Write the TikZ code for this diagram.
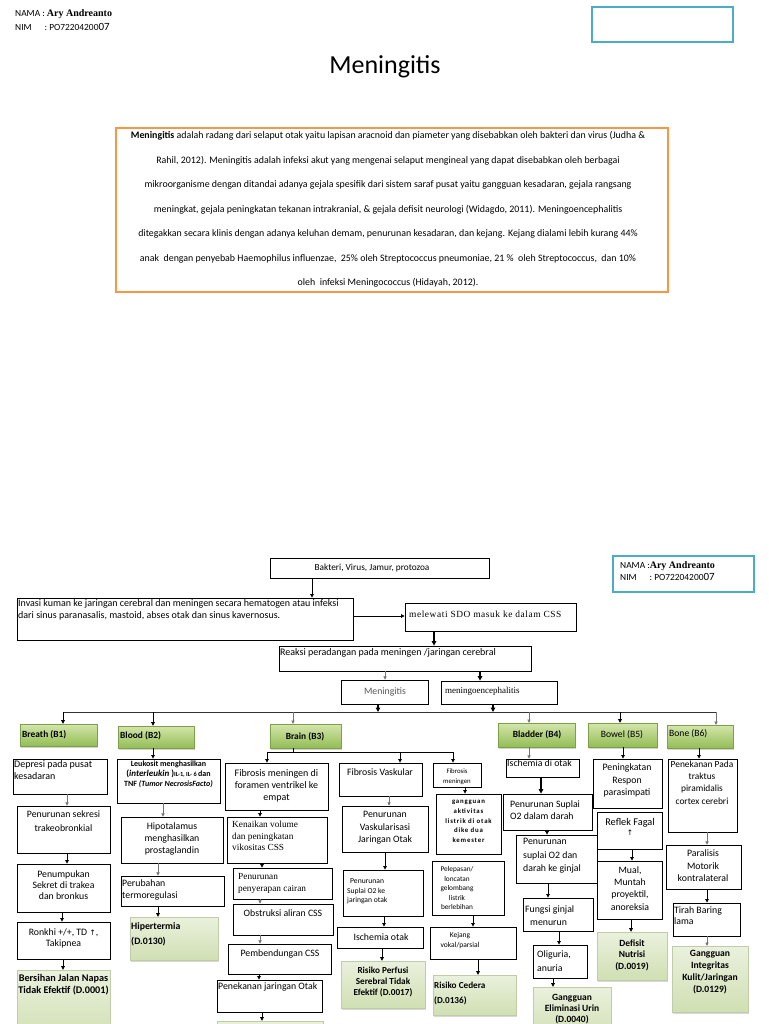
\documentclass[tikz,border=0pt]{standalone}
\usepackage{fontspec}
\setmainfont{Carlito}
\newfontfamily\tnr{Liberation Serif}
\newfontfamily\dvs{DejaVu Sans}
\usetikzlibrary{fit,arrows.meta,shadows}
\definecolor{teal1}{HTML}{4BACC6}
\definecolor{orng}{HTML}{F79646}
\definecolor{hdrtop}{HTML}{D4E6AC}
\definecolor{hdrbot}{HTML}{93BD55}
\definecolor{outtop}{HTML}{EAF1DD}
\definecolor{outbot}{HTML}{D0DFB3}
\newcommand\fs[2]{\fontsize{#1}{#2}\selectfont}
\newcommand\upar{{\dvs\fontsize{7.5}{8}\selectfont ↑}}
\tikzset{
  box/.style={draw=black, line width=0.8pt, inner sep=0pt, rectangle},
  hdr/.style={inner sep=0pt, rectangle, top color=hdrtop, bottom color=hdrbot,
    draw=hdrbot!85!black, line width=0.4pt,
    drop shadow={shadow xshift=1.2pt, shadow yshift=-1.6pt, opacity=0.35}},
  outc/.style={inner sep=0pt, rectangle, top color=outtop, bottom color=outbot,
    draw=outbot!80!gray, line width=0.4pt,
    drop shadow={shadow xshift=1.2pt, shadow yshift=-1.6pt, opacity=0.3}},
  tx/.style={inner sep=0pt, font=\fs{9.8}{12.5}, align=center},
  txl/.style={inner sep=0pt, font=\fs{9.8}{12.5}, align=left},
  arr/.style={-{Triangle[length=3.6pt,width=3.6pt]}, line width=0.8pt},
  arrg/.style={-{Triangle[length=3.2pt,width=3.2pt]}, line width=0.6pt, draw=black!55},
  arrk/.style={-{Triangle[length=4.5pt,width=4.5pt]}, line width=1.3pt},
}
\newcommand\bx[6][box]{\node[#1, fit={(#3,#4) (#5,#6)}] (#2) {};}
\begin{document}
\begin{tikzpicture}[x=1pt,y=-1pt]
\useasboundingbox (0,0) rectangle (768,1024);
\clip (0,0) rectangle (768,1024);
\fill[white] (0,0) rectangle (768,1024);

% ---------- header ----------
\node[anchor=base west, inner sep=0pt, font=\fs{9.4}{11}] (nama1) at (15,17) {NAMA : {\tnr\bfseries\fs{10}{11}Ary Andreanto}};
\node[anchor=base west, inner sep=0pt, font=\fs{9.4}{11}] (nim1) at (15,30.5) {NIM\hspace{13pt}: PO72204200{\fs{11}{11}07}};
\node[box, draw=teal1, line width=1.4pt, fit={(592,7) (733,42)}] (idbox1) {};
\node[inner sep=0pt, font=\fs{26}{30}] (title) at (385,67) {Meningitis};
\node[box, draw=orng, line width=1.6pt, fit={(116,128) (668,292)}] (defbox) {};
\node[anchor=north, inner sep=0pt, align=center, font=\fs{9.9}{24.5}] (para) at (388,131.5) {%
\textbf{Meningitis} adalah radang dari selaput otak yaitu lapisan aracnoid dan piameter yang disebabkan oleh bakteri dan virus (Judha \&\\
Rahil, 2012). Meningitis adalah infeksi akut yang mengenai selaput mengineal yang dapat disebabkan oleh berbagai\\
mikroorganisme dengan ditandai adanya gejala spesifik dari sistem saraf pusat yaitu gangguan kesadaran, gejala rangsang\\
meningkat, gejala peningkatan tekanan intrakranial, \& gejala defisit neurologi (Widagdo, 2011). Meningoencephalitis\\
ditegakkan secara klinis dengan adanya keluhan demam, penurunan kesadaran, dan kejang. Kejang dialami lebih kurang 44\%\\
anak\ \ dengan penyebab Haemophilus influenzae,\ \ 25\% oleh Streptococcus pneumoniae, 21 \%\ \ oleh Streptococcus,\ \ dan 10\%\\
oleh\ \ infeksi Meningococcus (Hidayah, 2012).};

% ---------- second id box ----------
\node[box, draw=teal1, line width=1.4pt, fit={(613,556) (754,592)}] (idbox2) {};
\node[anchor=base west, inner sep=0pt, font=\fs{9.4}{11}] (nama2) at (620,568) {NAMA :{\tnr\bfseries\fs{10}{11}Ary Andreanto}};
\node[anchor=base west, inner sep=0pt, font=\fs{9.4}{11}] (nim2) at (620,580) {NIM\hspace{13pt}: PO72204200{\fs{11}{11}07}};

% ---------- top of flow ----------
\bx{bak}{270}{558}{489}{578}
\node[tx, font=\fs{9.3}{12}] (lbak) at (372,568) {Bakteri, Virus, Jamur, protozoa};
\bx{inv}{17}{598}{353}{640}
\node[txl, anchor=north west, font=\fs{10}{12.5}] (linv) at (18,599) {Invasi kuman ke jaringan cerebral dan meningen secara hematogen atau infeksi\\dari sinus paranasalis, mastoid, abses otak dan sinus kavernosus.};
\bx{mel}{405}{603}{576}{631}
\node[txl, anchor=west, font=\tnr\addfontfeature{LetterSpace=6}\fs{9.4}{10}] (lmel) at (409,614) {melewati SDO masuk ke dalam CSS};
\bx{rea}{279}{646}{531}{671}
\node[txl, anchor=north west, font=\fs{10}{12}] (lrea) at (280,648.5) {Reaksi peradangan pada meningen /jaringan cerebral};
\bx{men}{341}{680}{428}{704}
\node[tx, text=black!65] (lmen) at (385,692) {Meningitis};
\bx{menc}{441}{681}{557}{704}
\node[txl, anchor=west, font=\tnr\fs{9}{10}] (lmenc) at (445,691) {meningoencephalitis};

\draw[arr] (bak.south -| 312,0) -- (inv.north -| 312,0);
\draw[arr] (inv.east |- 0,616) -- (mel.west |- 0,616);
\draw[arrk] (mel.south -| 434,0) -- (rea.north -| 434,0);
\draw[arrg] (rea.south -| 385,0) -- (men.north -| 385,0);
\draw[arrk] (rea.south -| 480,0) -- (menc.north -| 480,0);

\coordinate (busL) at (63,712);
\coordinate (busR) at (716,712);
\draw[line width=0.9pt, black!80] (busL) -- (busR);
\draw[arrk] (men.south -| 378,0) -- (busL -| 378,0);
\draw[arrk] (menc.south -| 493,0) -- (busL -| 493,0);

% ---------- headers ----------
\bx[hdr]{hb1}{20}{724}{97}{746}
\node[txl, anchor=west, font=\bfseries\fs{9.4}{11}] (lb1) at (22,734.5) {Breath (B1)};
\bx[hdr]{hb2}{118}{726}{194}{748}
\node[txl, anchor=west, font=\bfseries\fs{9.4}{11}] (lb2) at (120,735.5) {Blood (B2)};
\bx[hdr]{hb3}{270}{724}{341}{748}
\node[tx, font=\bfseries\fs{9.4}{11}] (lb3) at (305,736.5) {Brain (B3)};
\bx[hdr]{hb4}{498}{723}{575}{747}
\node[tx, font=\bfseries\fs{9.4}{11}] (lb4) at (537,735) {Bladder (B4)};
\bx[hdr]{hb5}{588}{723}{657}{747}
\node[tx, font=\fs{9.6}{11}] (lb5) at (622,735) {Bowel (B5)};
\bx[hdr]{hb6}{667}{725}{733}{748}
\node[txl, anchor=west, font=\fs{9.6}{11}] (lb6) at (669,733.5) {Bone (B6)};

\draw[arr] (busL -| 63,0) -- (hb1.north -| 63,0);
\draw[arr] (busL -| 153,0) -- (hb2.north -| 153,0);
\draw[arrg] (busL -| 293,0) -- (hb3.north -| 293,0);
\draw[arrg] (busL -| 529,0) -- (hb4.north -| 529,0);
\draw[arr] (busL -| 620,0) -- (hb5.north -| 620,0);
\draw[arrg] (busL -| 716,0) -- (hb6.north -| 716,0);

% ---------- B1 ----------
\bx{dep}{13}{759}{107}{794}
\node[txl, anchor=north west, font=\fs{10}{12}] (ldep) at (14,760.8) {Depresi pada pusat\\kesadaran};
\bx{pse}{17}{806}{110}{853}
\node[tx, anchor=north, font=\fs{9.8}{14}] (lpse) at (63.5,810.7) {Penurunan sekresi\\trakeobronkial};
\bx{pen}{17}{864}{110}{912}
\node[tx, anchor=north, font=\fs{9.8}{11}] (lpen) at (63.5,870.7) {Penumpukan\\Sekret di trakea\\dan bronkus};
\bx{ron}{17}{922}{110}{959}
\node[tx, anchor=north, font=\fs{9.8}{10.5}] (lron) at (63.5,928.7) {Ronkhi +/+, TD \upar,\\Takipnea};
\bx[outc]{o1}{17}{970}{110}{1040}
\node[tx, anchor=north, font=\bfseries\fs{10.2}{11.5}] (lo1) at (63.5,974.5) {Bersihan Jalan Napas\\Tidak Efektif (D.0001)};
\draw[arrg] (dep.south -| 67,0) -- (pse.north -| 67,0);
\draw[arr] (pse.south -| 67,0) -- (pen.north -| 67,0);
\draw[arr] (pen.south -| 62,0) -- (ron.north -| 62,0);
\draw[arr] (ron.south -| 63,0) -- (o1.north -| 63,0);

% ---------- B2 ----------
\bx{leu}{117}{759}{220}{803}
\node[tx, anchor=north, font=\bfseries\fs{8}{10}] (lleu) at (168.5,760.8) {Leukosit menghasilkan\\{\fs{9}{10}(\textit{interleukin} )}{\fs{6.3}{10}IL-1, IL- 6 }dan\\TNF \textit{(Tumor NecrosisFacto)}};
\bx{hip}{121}{817}{223}{863}
\node[tx, anchor=north, font=\fs{9.8}{12}] (lhip) at (172,822.5) {Hipotalamus\\menghasilkan\\prostaglandin};
\bx{per}{121}{876}{224}{906}
\node[txl, anchor=north west, font=\fs{9.8}{12}] (lper) at (122,879.5) {Perubahan\\termoregulasi};
\bx[outc]{o2}{130}{917}{218}{960}
\node[txl, anchor=north west, font=\bfseries\fs{9.8}{15}] (lo2) at (131,922.5) {Hipertermia\\(D.0130)};
\draw[arr] (hb2.south -| 153,0) -- (leu.north -| 153,0);
\draw[arrg] (leu.south -| 163,0) -- (hip.north -| 163,0);
\draw[arrg] (hip.south -| 158,0) -- (per.north -| 158,0);
\draw[arr] (per.south -| 158,0) -- (o2.north -| 158,0);

% ---------- B3 ----------
\coordinate (bus3L) at (267,752);
\coordinate (bus3R) at (454,752);
\draw[line width=0.8pt] (bus3L) -- (bus3R);
\draw[line width=0.8pt] (hb3.south -| 293,0) -- (bus3L -| 293,0);
\bx{fm1}{225}{763}{328}{810}
\node[tx, anchor=north, font=\fs{10}{12}] (lfm1) at (276.5,769.3) {Fibrosis meningen di\\foramen ventrikel ke\\empat};
\bx{ken}{227}{817}{327}{863}
\node[txl, anchor=north west, font=\tnr\fs{9.3}{11.5}] (lken) at (232,821.3) {Kenaikan volume\\dan peningkatan\\vikositas CSS};
\bx{pny}{233}{868}{332}{899}
\node[txl, anchor=north west, font=\tnr\fs{9.3}{12}] (lpny) at (238,873.3) {Penurunan\\penyerapan cairan};
\bx{obs}{233}{904}{333}{935}
\node[tx, anchor=north, font=\fs{9.8}{12}] (lobs) at (283,909.5) {Obstruksi aliran CSS};
\bx{pmb}{228}{944}{331}{974}
\node[tx, anchor=north, font=\fs{9.8}{12}] (lpmb) at (280,949.5) {Pembendungan CSS};
\bx{pnk}{217}{980}{322}{1012}
\node[txl, anchor=north west, font=\fs{9.8}{12}] (lpnk) at (218,982.5) {Penekanan jaringan Otak};
\bx[outc]{o3}{217}{1021}{323}{1040}
\draw[arr] (bus3L -| 267,0) -- (fm1.north -| 267,0);
\draw[arr] (fm1.south -| 260,0) -- (ken.north -| 260,0);
\draw[arr] (ken.south -| 262,0) -- (pny.north -| 262,0);
\draw[arrg] (pny.south -| 260,0) -- (obs.north -| 260,0);
\draw[arrg] (obs.south -| 260,0) -- (pmb.north -| 260,0);
\draw[arr] (pmb.south -| 259,0) -- (pnk.north -| 259,0);
\draw[arr] (pnk.south -| 262,0) -- (o3.north -| 262,0);

\bx{fv}{339}{763}{422}{796}
\node[tx, anchor=north, font=\fs{9.8}{12}] (lfv) at (380,768.5) {Fibrosis Vaskular};
\bx{pvj}{342}{806}{428}{852}
\node[tx, anchor=north, font=\fs{9.8}{12.5}] (lpvj) at (385,811.5) {Penurunan\\Vaskularisasi\\Jaringan Otak};
\bx{pso}{343}{870}{423}{916}
\node[txl, anchor=north west, font=\fs{7.6}{9.7}] (lpso) at (347,878.5) {\hspace*{3pt}Penurunan\\Suplai O2 ke\\jaringan otak};
\bx{isc}{337}{927}{423}{948}
\node[tx, font=\fs{9.8}{12}] (lisc) at (381,937.5) {Ischemia otak};
\bx[outc]{o4}{341}{961}{425}{1008}
\node[tx, anchor=north, font=\bfseries\fs{9.2}{10.7}] (lo4) at (383,967.3) {Risiko Perfusi\\Serebral Tidak\\Efektif (D.0017)};
\draw[arr] (bus3L -| 400,0) -- (fv.north -| 400,0);
\draw[arrg] (fv.south -| 389,0) -- (pvj.north -| 389,0);
\draw[arr] (pvj.south -| 385,0) -- (pso.north -| 385,0);
\draw[arr] (pso.south -| 384,0) -- (isc.north -| 384,0);
\draw[arr] (isc.south -| 382,0) -- (o4.north -| 382,0);

\bx{fmk}{433}{763}{481}{787}
\node[tx, anchor=north, font=\fs{6.8}{10}] (lfmk) at (457,768.7) {Fibrosis\\meningen};
\bx{gan}{436}{794}{501}{854}
\node[tx, anchor=north, font=\bfseries\addfontfeature{LetterSpace=12}\fs{6.8}{9.6}] (lgan) at (468.5,800.3) {gangguan\\aktivitas\\listrik di otak\\dike dua\\kemester};
\bx{pel}{432}{861}{504}{915}
\node[tx, anchor=north, font=\fs{7.3}{9.5}] (lpel) at (457,866.7) {Pelepasan/\\loncatan\\gelombang\\listrik\\berlebihan};
\bx{kej}{430}{927}{516}{959}
\node[tx, anchor=north, font=\fs{7.5}{9.5}] (lkej) at (460,932.4) {Kejang\\vokal/parsial};
\bx[outc]{o5}{433}{975}{516}{1015}
\node[txl, anchor=north west, font=\bfseries\fs{9.2}{15}] (lo5) at (434,981.5) {Risiko Cedera\\(D.0136)};
\draw[arr] (bus3L -| 453,0) -- (fmk.north -| 453,0);
\draw[arr] (fmk.south -| 465,0) -- (gan.north -| 465,0);
\draw[arr] (pel.south -| 473,0) -- (kej.north -| 473,0);
\draw[arr] (kej.south -| 478,0) -- (o5.north -| 478,0);

% ---------- B4 ----------
\bx{isd}{506}{759}{579}{777}
\node[txl, anchor=north west, font=\fs{9.8}{12}] (lisd) at (507,759.4) {Ischemia di otak};
\bx{psd}{503}{794}{592}{830}
\node[txl, anchor=north west, font=\fs{9.8}{12}] (lpsd) at (510,800.5) {Penurunan Suplai\\O2 dalam darah};
\bx{psg}{516}{835}{597}{883}
\node[txl, anchor=north west, font=\fs{9.8}{13.5}] (lpsg) at (523,838.5) {Penurunan\\suplai O2 dan\\darah ke ginjal};
\bx{fgm}{523}{898}{593}{931}
\node[txl, anchor=north west, font=\fs{9.8}{13}] (lfgm) at (525,905.5) {Fungsi ginjal\\\hspace*{5pt}menurun};
\bx{oli}{533}{945}{587}{978}
\node[txl, anchor=north west, font=\fs{9.8}{14}] (loli) at (537,950.5) {Oliguria,\\anuria};
\bx[outc]{o6}{533}{987}{611}{1040}
\node[tx, anchor=north, font=\bfseries\fs{9.5}{11}] (lo6) at (572,994.5) {Gangguan\\Eliminasi Urin\\(D.0040)};
\draw[arrg] (hb4.south -| 529,0) -- (isd.north -| 529,0);
\draw[arrk] (isd.south -| 541,0) -- (psd.north -| 541,0);
\draw[arr] (psd.south -| 547,0) -- (psg.north -| 547,0);
\draw[arr] (psg.south -| 548,0) -- (fgm.north -| 548,0);
\draw[arr] (fgm.south -| 559,0) -- (oli.north -| 559,0);
\draw[arr] (oli.south -| 553,0) -- (o6.north -| 553,0);

% ---------- B5 ----------
\bx{pr}{593}{759}{662}{808}
\node[tx, anchor=north, font=\fs{9.8}{12.5}] (lpr) at (627,763.5) {Peningkatan\\Respon\\parasimpati};
\bx{rf}{597}{812}{662}{849}
\node[tx, anchor=north, font=\fs{10.3}{10}] (lrf) at (630,818.3) {Reflek Fagal\\\upar};
\bx{mu}{597}{861}{662}{919}
\node[tx, anchor=north, font=\fs{9.8}{12.2}] (lmu) at (630,866.5) {Mual,\\Muntah\\proyektil,\\anoreksia};
\bx[outc]{o7}{597}{932}{667}{980}
\node[tx, anchor=north, font=\bfseries\fs{9.5}{11.5}] (lo7) at (632,939.5) {Defisit\\Nutrisi\\(D.0019)};
\draw[arr] (hb5.south -| 623,0) -- (pr.north -| 623,0);
\draw[arr] (rf.south -| 632,0) -- (mu.north -| 632,0);
\draw[arr] (mu.south -| 631,0) -- (o7.north -| 631,0);

% ---------- B6 ----------
\bx{pp}{668}{759}{737}{832}
\node[tx, anchor=north, font=\fs{9.4}{12.3}] (lpp) at (702,760.6) {Penekanan Pada\\traktus\\piramidalis\\cortex cerebri};
\bx{pm}{666}{845}{741}{889}
\node[tx, anchor=north, font=\fs{9.8}{12.5}] (lpm) at (703,849.5) {Paralisis\\Motorik\\kontralateral};
\bx{tb}{673}{903}{740}{936}
\node[txl, anchor=north west, font=\fs{9.8}{11}] (ltb) at (674,906.5) {Tirah Baring\\lama};
\bx[outc]{o8}{672}{946}{748}{1012}
\node[tx, anchor=north, font=\bfseries\fs{9.6}{12.3}] (lo8) at (710,949.5) {Gangguan\\Integritas\\Kulit/Jaringan\\(D.0129)};
\draw[arr] (hb6.south -| 699,0) -- (pp.north -| 699,0);
\draw[arrg] (pp.south -| 707,0) -- (pm.north -| 707,0);
\draw[arr] (pm.south -| 707,0) -- (tb.north -| 707,0);
\draw[arrg] (tb.south -| 707,0) -- (o8.north -| 707,0);
\end{tikzpicture}
\end{document}
